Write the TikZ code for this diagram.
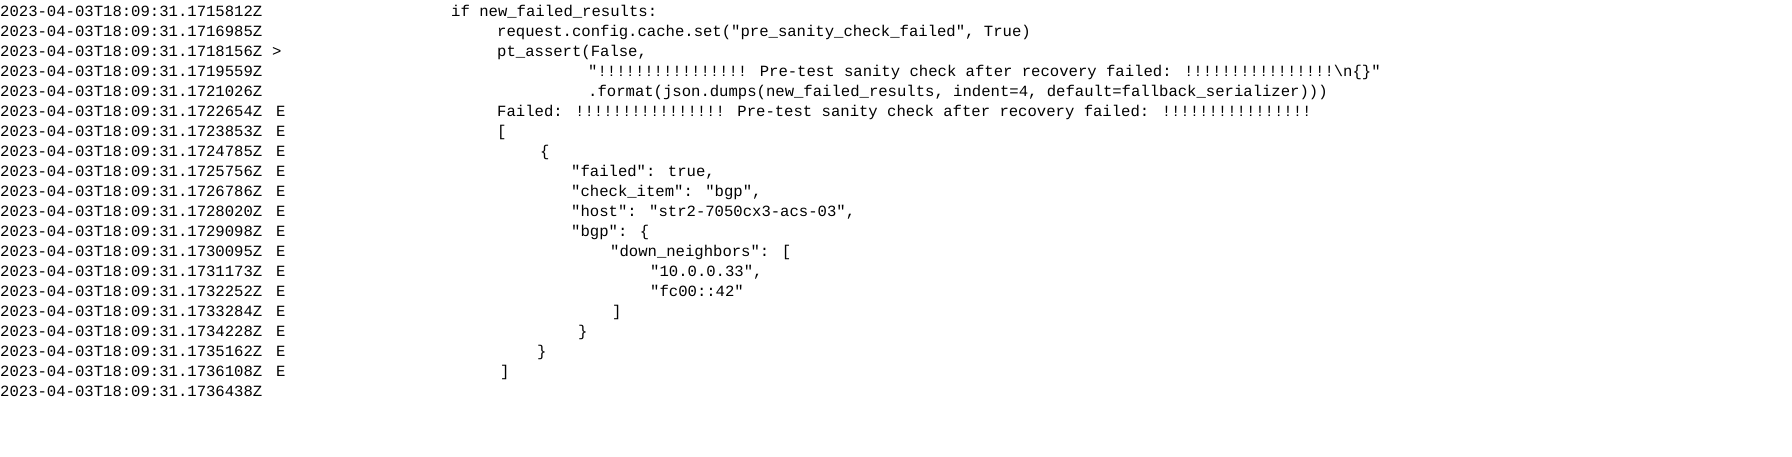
\documentclass[tikz,border=0pt]{standalone}
\usepackage{fontspec}
\newfontfamily\logfont{Liberation Mono}
\begin{document}
\begin{tikzpicture}[x=1pt, y=-1pt]
\def\rowgap{20}
\def\rowzero{16}
\tikzset{logtext/.style={anchor=base west, inner sep=0pt, font=\logfont\fontsize{15.6}{20}\selectfont}}
\useasboundingbox (0,0) rectangle (1792,456);

% TIMESTAMPS
\foreach \stamp [count=\i from 0] in {1715812,1716985,1718156,1719559,1721026,1722654,1723853,1724785,1725756,1726786,1728020,1729098,1730095,1731173,1732252,1733284,1734228,1735162,1736108,1736438}
  \node[logtext] (ts\i) at (0, \rowzero+\i*\rowgap) {2023-04-03T18:09:31.\stamp Z};

% MARKERS
\node[logtext] (mark2) at (272, \rowzero+2*\rowgap) {>};
\foreach \i in {5,...,18}
  \node[logtext] (mark\i) at (276, \rowzero+\i*\rowgap) {E};

% CODE
\node[logtext] (code0) at (451, \rowzero) {if new\_failed\_results:};
\node[logtext] (code1) at (497, \rowzero+1*\rowgap) {request.config.cache.set("pre\_sanity\_check\_failed", True)};
\node[logtext] (code2) at (497, \rowzero+2*\rowgap) {pt\_assert(False,};
\node[logtext] (code3) at (588, \rowzero+3*\rowgap) {"!!!!!!!!!!!!!!!! Pre-test sanity check after recovery failed: !!!!!!!!!!!!!!!!\textbackslash n\{\}"};
\node[logtext] (code4) at (588, \rowzero+4*\rowgap) {.format(json.dumps(new\_failed\_results, indent=4, default=fallback\_serializer)))};

% OUTPUT
\node[logtext] (out5) at (497, \rowzero+5*\rowgap) {Failed: !!!!!!!!!!!!!!!! Pre-test sanity check after recovery failed: !!!!!!!!!!!!!!!!};
\node[logtext] (out6) at (497, \rowzero+6*\rowgap) {[};
\node[logtext] (out7) at (540, \rowzero+7*\rowgap) {\{};
\node[logtext] (out8) at (571, \rowzero+8*\rowgap) {"failed": true,};
\node[logtext] (out9) at (571, \rowzero+9*\rowgap) {"check\_item": "bgp",};
\node[logtext] (out10) at (571, \rowzero+10*\rowgap) {"host": "str2-7050cx3-acs-03",};
\node[logtext] (out11) at (571, \rowzero+11*\rowgap) {"bgp": \{};
\node[logtext] (out12) at (610, \rowzero+12*\rowgap) {"down\_neighbors": [};
\node[logtext] (out13) at (650, \rowzero+13*\rowgap) {"10.0.0.33",};
\node[logtext] (out14) at (650, \rowzero+14*\rowgap) {"fc00::42"};
\node[logtext] (out15) at (612, \rowzero+15*\rowgap) {]};
\node[logtext] (out16) at (578, \rowzero+16*\rowgap) {\}};
\node[logtext] (out17) at (537, \rowzero+17*\rowgap) {\}};
\node[logtext] (out18) at (500, \rowzero+18*\rowgap) {]};
\end{tikzpicture}
\end{document}
